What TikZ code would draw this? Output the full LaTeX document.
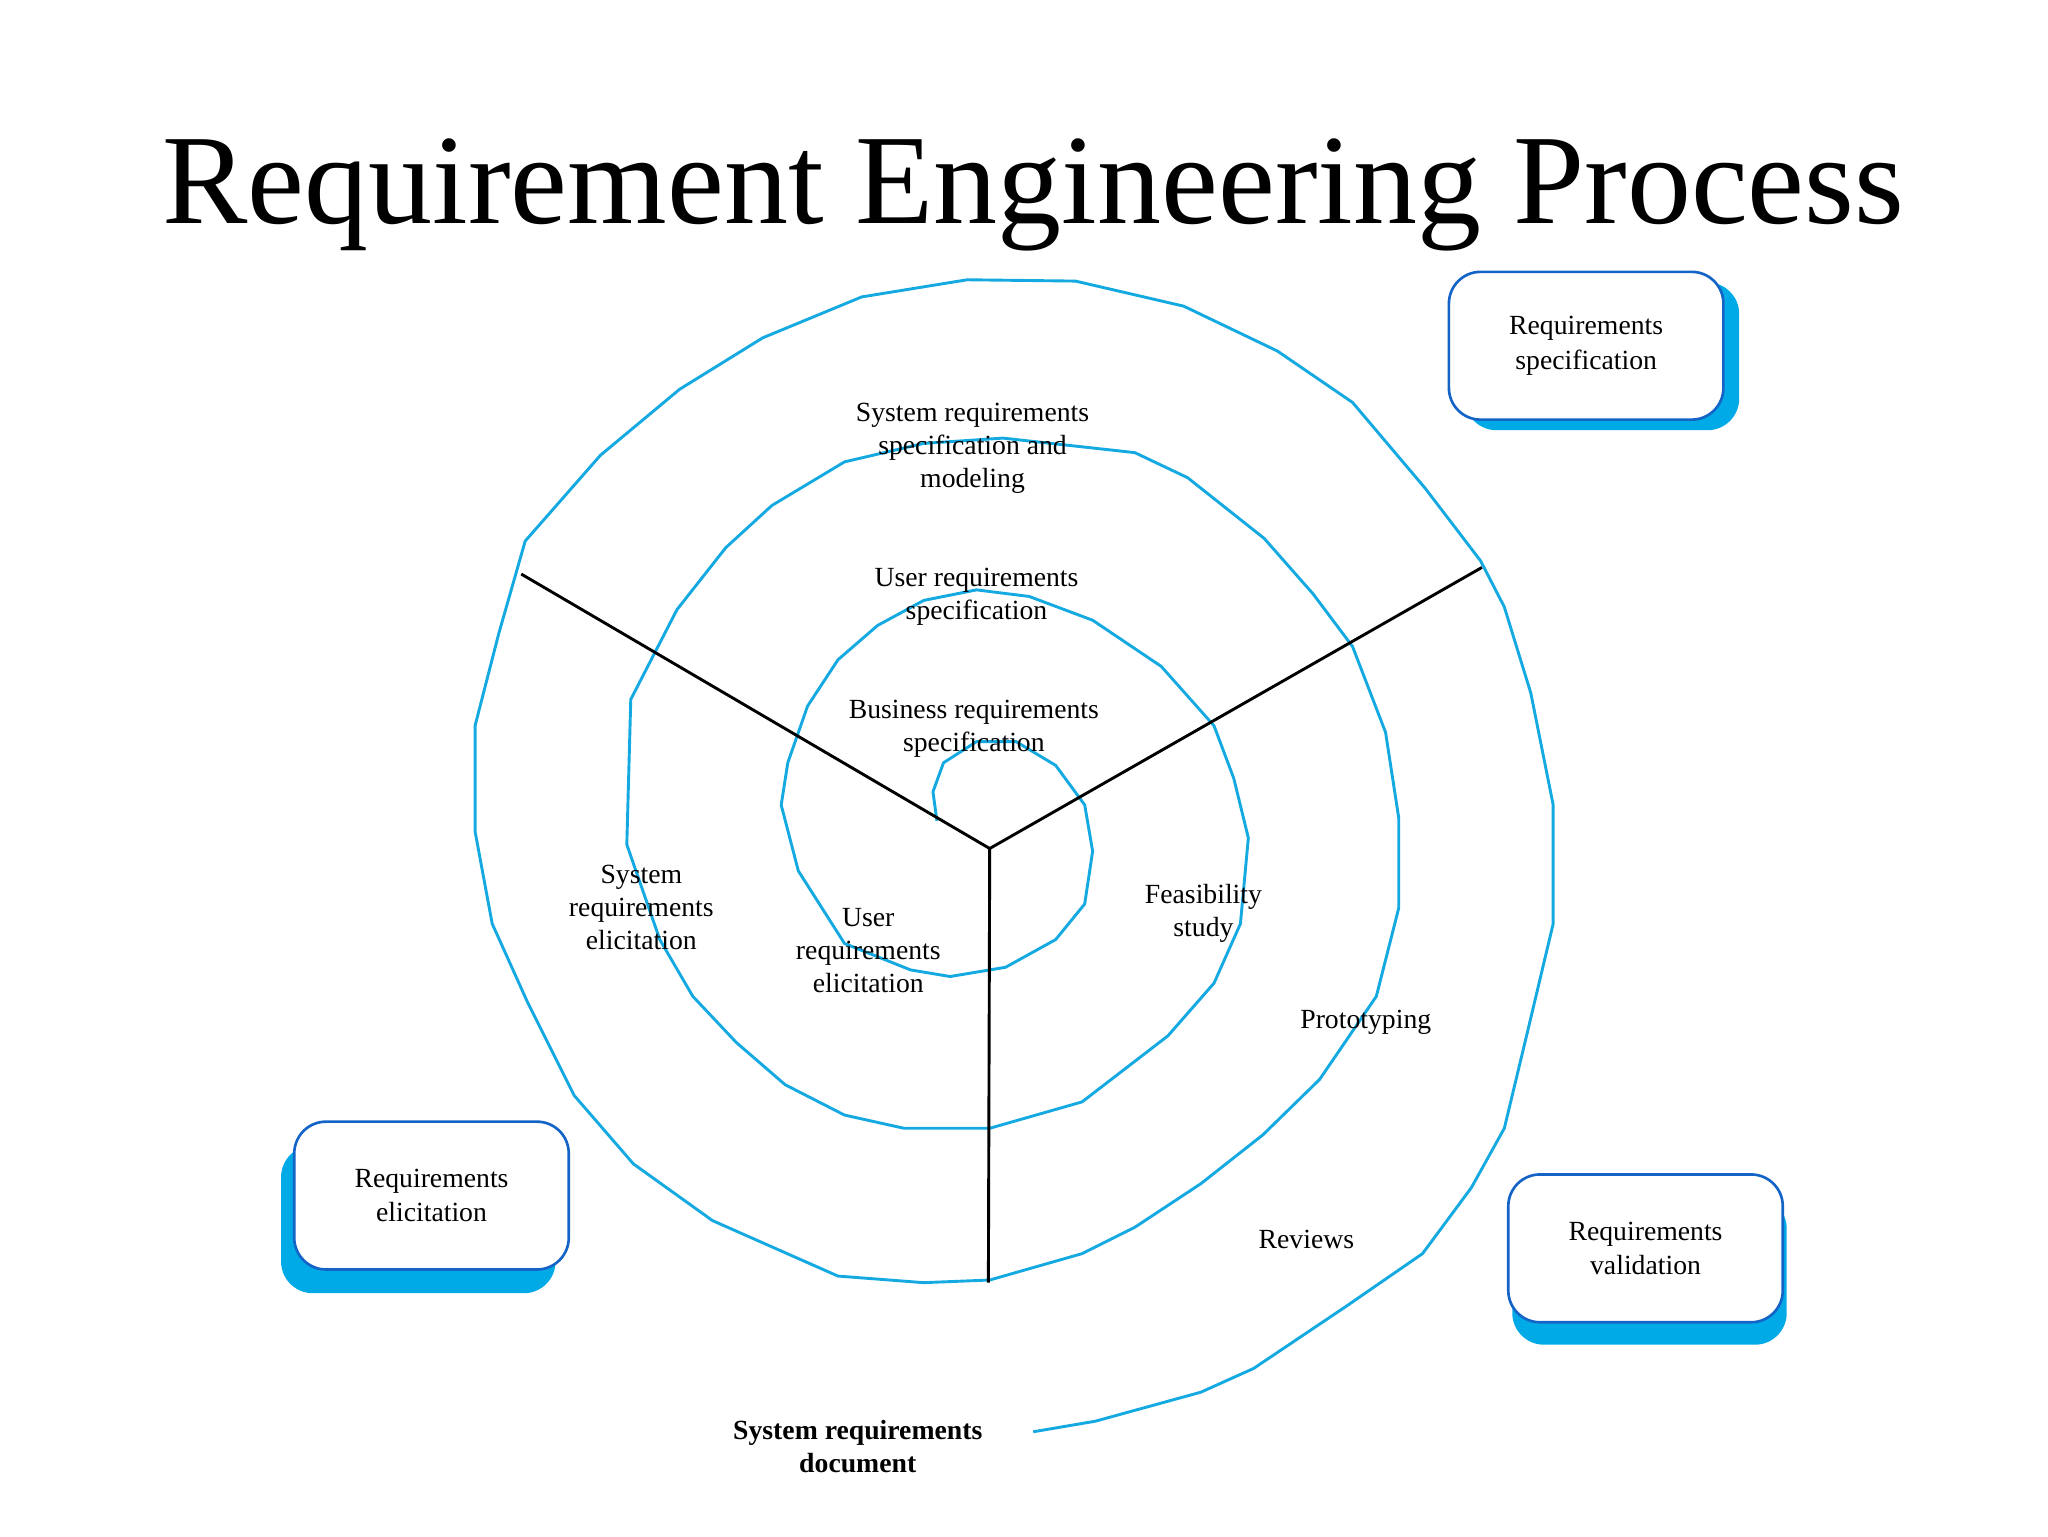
\documentclass[tikz,border=0pt]{standalone}
\usepackage{fontspec}
\setmainfont{Liberation Serif}
\definecolor{spiralblue}{RGB}{20,170,225}
\definecolor{boxline}{RGB}{20,100,200}
\definecolor{shadowblue}{RGB}{0,170,230}
\tikzset{
  lbl/.style={align=center,font=\fontsize{10.5}{12.5}\selectfont,inner sep=0.75pt},
  phase/.style={draw=boxline,line width=1pt,fill=white,rounded corners=12pt,minimum width=104pt,minimum height=56pt,align=center,font=\fontsize{10.5}{13}\selectfont},
  shade/.style={fill=shadowblue,rounded corners=12pt,minimum width=104pt,minimum height=56pt}
}
\begin{document}
\begin{tikzpicture}[x=0.5pt,y=0.5pt,yscale=-1,xscale=1]
\useasboundingbox (0,0) rectangle (1552,1164);

% Title
\node (title) at (783,148) {\fontsize{48.5}{52}\selectfont Requirement Engineering Process};

% Spiral
\draw [spiralblue,line width=1.1pt,line join=round] (710,622) -- (707,600) -- (715,578) -- (740,562) -- (770,562) -- (800,580) -- (822,610) -- (828,645) -- (822,685) -- (800,712) -- (762,733) -- (720,740) -- (690,735) -- (640,715) -- (605,660) -- (592,610) -- (597,578) -- (612,535) -- (635,500) -- (665,474) -- (700,455) -- (740,447) -- (780,452) -- (828,470) -- (880,505) -- (920,550) -- (935,590) -- (946,635) -- (940,700) -- (920,745) -- (885,785) -- (820,835) -- (750,855) -- (685,855) -- (640,845) -- (595,822) -- (558,790) -- (525,755) -- (500,712) -- (475,640) -- (478,530) -- (513,462) -- (550,415) -- (585,383) -- (640,350) -- (700,336) -- (760,332) -- (860,343) -- (900,362) -- (958,408) -- (995,450) -- (1025,490) -- (1050,555) -- (1060,620) -- (1060,688) -- (1043,755) -- (1000,818) -- (957,860) -- (910,897) -- (860,930) -- (820,950) -- (750,970) -- (700,972) -- (635,967) -- (540,925) -- (480,882) -- (435,830) -- (400,760) -- (373,700) -- (360,630) -- (360,550) -- (378,480) -- (398,410) -- (455,345) -- (515,295) -- (578,256) -- (653,225) -- (733,212) -- (815,213) -- (897,232) -- (968,266) -- (1025,305) -- (1080,370) -- (1122,425) -- (1140,460) -- (1160,525) -- (1177,610) -- (1177,700) -- (1158,780) -- (1140,855) -- (1115,900) -- (1078,950) -- (1020,990) -- (950,1037) -- (910,1055) -- (830,1077) -- (783,1085);

% Sector lines
\coordinate (c) at (750,643);
\coordinate (l) at (395,435);
\coordinate (r) at (1123,430);
\coordinate (b) at (749,972);
\draw [line width=1.1pt] (c) -- (l) (c) -- (r) (c) -- (b);

% Phase boxes
\node [shade] at (1214,270) {};
\node [phase] (spec) at (1202,262) {Requirements\\ specification};
\node [shade] at (317,924) {};
\node [phase] (elic) at (327,906) {Requirements\\ elicitation};
\node [shade] at (1250,963) {};
\node [phase] (valid) at (1247,946) {Requirements\\ validation};

% Labels
\node [lbl] (sysspec) at (737,340) {System requirements\\ specification and\\ modeling};
\node [lbl] (userspec) at (740,452) {User requirements\\ specification};
\node [lbl] (busspec) at (738,552) {Business requirements\\ specification};
\node [lbl] (syselic) at (486,688) {System\\ requirements\\ elicitation};
\node [lbl] (userelic) at (658,720) {User\\ requirements\\ elicitation};
\node [lbl] (feas) at (912,692) {Feasibility\\ study};
\node [lbl] (proto) at (1035,775) {Prototyping};
\node [lbl] (rev) at (990,939) {Reviews};
\node [lbl,font=\bfseries\fontsize{10.5}{12.5}\selectfont] (doc) at (650,1096) {System requirements\\ document};
\end{tikzpicture}
\end{document}
